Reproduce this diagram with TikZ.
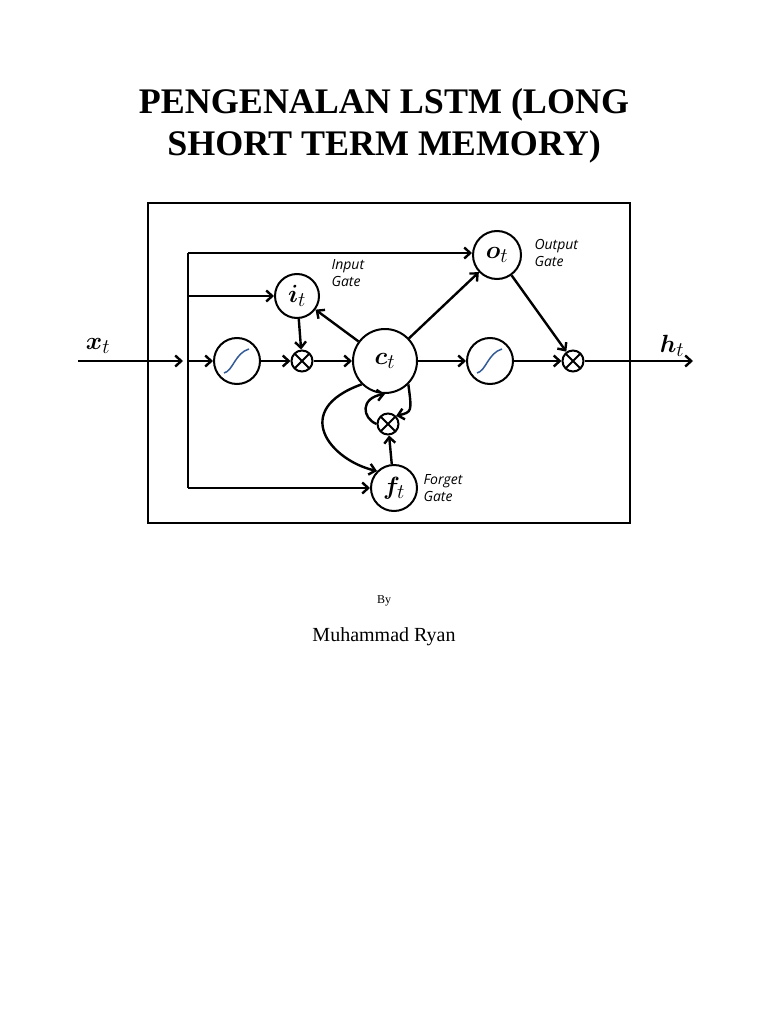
\documentclass[tikz,border=0pt]{standalone}
\usepackage{fontspec}
\setmainfont{Liberation Serif}
\newfontfamily\gatefont{Open Sans}
\usetikzlibrary{arrows.meta}
\usepackage{amsmath,bm}
\definecolor{sig}{RGB}{50,90,150}
\begin{document}
\begin{tikzpicture}[x=1pt,y=-1pt,
  ln/.style={line width=2.4pt,-{Straight Barb[length=6pt,width=11pt]}},
  circ/.style={draw,line width=2pt,circle,inner sep=0pt},
  cross/.style={circ,minimum size=21pt,path picture={\draw[line width=2pt](path picture bounding box.north west)--(path picture bounding box.south east)(path picture bounding box.north east)--(path picture bounding box.south west);}},
  gl/.style={font=\gatefont\itshape\fontsize{14}{17}\selectfont,align=left,anchor=west}]
\useasboundingbox (0,0) rectangle (768,1024);
\node[font=\bfseries\fontsize{36}{42}\selectfont,align=center] (title) at (384,126) {PENGENALAN LSTM (LONG\\SHORT TERM MEMORY)};
\node[font=\fontsize{12}{14}\selectfont] (by) at (384,601) {By};
\node[font=\fontsize{20}{22}\selectfont] (au) at (384,637) {Muhammad Ryan};
\draw[line width=2.4pt] (148,203) rectangle (630,523);
% nodes
\node[circ,minimum size=46pt] (s1) at (237,361) {};
\node[circ,minimum size=46pt] (s2) at (490,361) {};
\node[cross] (m1) at (302,361) {};
\node[cross] (m2) at (573,361) {};
\node[cross] (m3) at (388,424) {};
\node[circ,minimum size=64pt] (c) at (385,361) {\fontsize{32}{32}\selectfont$\bm{c}_t$};
\node[circ,minimum size=44pt] (i) at (297,296) {\fontsize{30}{30}\selectfont$\bm{i}_t$};
\node[circ,minimum size=48pt] (o) at (497,255) {\fontsize{30}{30}\selectfont$\bm{o}_t$};
\node[circ,minimum size=46pt] (f) at (394,488) {\fontsize{30}{30}\selectfont$\bm{f}_t$};
\foreach \s in {s1,s2}{\draw[sig,line width=1.5pt] ([shift={(-13,12)}]\s.center) .. controls ([shift={(-4,10)}]\s.center) and ([shift={(-2,-8)}]\s.center) .. ([shift={(12,-12)}]\s.center);}
\node[font=\fontsize{32}{32}\selectfont] (xl) at (98,346) {$\bm{x}_t$};
\node[font=\fontsize{32}{32}\selectfont] (hl) at (672,346) {$\bm{h}_t$};
\coordinate (xin) at (78,361);
\coordinate (hout) at (693,361);
\coordinate (top) at (188,253);
\coordinate (mid) at (188,296);
\coordinate (bot) at (188,488);
\coordinate (j) at (188,361);
% connectors
\draw[line width=2.4pt] (top)--(bot);
\draw[ln] (xin)--(183,361);
\draw[ln] (j)--(s1);
\draw[ln] (top)--(o.west|-top);
\draw[ln] (mid)--(i);
\draw[ln] (bot)--(f);
\draw[ln] (s1)--(m1);
\draw[ln] (i)--(m1);
\draw[ln] (m1)--(c);
\draw[ln] (c)--(i);
\draw[ln] (c)--(o);
\draw[ln] (c)--(s2);
\draw[ln] (s2)--(m2);
\draw[ln] (o)--(m2);
\draw[ln] (m2)--(hout);
\draw[ln] (f)--(m3);
\draw[ln] (c.south east) .. controls (412,412) .. (m3.north east);
\draw[ln] (m3.west) .. controls (362,418) and (360,398) .. (c.south);
\draw[ln] (c.south west) .. controls (290,410) and (330,460) .. (f.north west);
\node[gl] (ig) at (328,273) {Input\\Gate};
\node[gl] (og) at (531,253) {Output\\Gate};
\node[gl] (fg) at (420,488) {Forget\\Gate};
\end{tikzpicture}
\end{document}
